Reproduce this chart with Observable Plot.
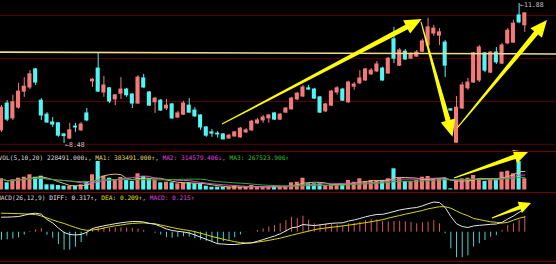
<!DOCTYPE html>
<html><head><meta charset="utf-8">
<script src="https://cdn.jsdelivr.net/npm/d3@7"></script>
<script src="https://cdn.jsdelivr.net/npm/@observablehq/plot@0.6"></script>
<style>
html,body{margin:0;padding:0;background:#000;}
#wrap{position:relative;width:556px;height:264px;overflow:hidden;background:#000;}
#wrap svg{position:absolute;left:0;overflow:visible;}
.hdr{position:absolute;white-space:pre;font-family:"DejaVu Sans Mono",monospace;font-size:6.2px;line-height:7px;}
.sep{position:absolute;left:0;width:556px;height:1px;background:#7a0000;}
</style></head>
<body><div id="wrap"></div>
<script>
// ---- data (one entry per trading day) ----
const openP = [8.80,9.45,9.09,9.35,9.74,9.84,10.28,9.52,9.18,8.99,
 8.97,8.70,8.60,8.89,8.80,9.21,9.99,10.30,9.72,9.82,
 9.55,9.69,9.79,9.67,9.45,10.06,9.72,9.48,9.52,9.33,
 9.43,9.11,9.18,9.40,9.28,9.16,8.87,8.75,8.72,8.70,
 8.60,8.65,8.63,8.75,8.80,8.97,9.04,9.09,9.21,9.06,
 9.23,9.31,9.55,9.62,9.82,9.79,9.60,9.26,9.40,9.72,
 9.79,9.48,9.86,9.94,10.01,10.16,10.23,10.30,10.18,11.01,
 10.37,10.71,10.54,10.59,10.71,10.86,11.15,11.10,10.93,9.31,
 8.50,9.33,9.82,9.96,10.01,10.67,10.20,10.69,10.42,10.91,
 10.93,11.59,11.35];
const highP = [9.40,9.52,9.65,9.94,10.08,10.25,10.30,9.57,9.23,9.11,
 8.99,8.72,8.97,8.97,8.99,9.33,10.06,10.69,10.11,9.84,
 9.67,10.08,9.82,9.69,10.13,10.16,9.74,9.60,9.55,9.55,
 9.45,9.26,9.50,9.57,9.35,9.18,8.89,8.82,8.77,8.72,
 8.70,8.77,8.87,8.84,9.04,9.09,9.16,9.18,9.23,9.21,
 9.35,9.60,9.72,9.89,9.89,9.82,9.62,9.45,9.77,9.86,
 9.82,9.99,9.96,10.25,10.30,10.30,10.47,10.33,10.57,11.30,
 10.79,10.76,10.69,10.74,11.01,11.52,11.35,11.27,10.98,9.32,
 9.62,9.96,10.06,10.69,10.86,10.69,10.71,10.81,10.91,11.27,
 11.47,11.88,11.66];
const lowP = [8.75,9.01,9.04,9.31,9.60,9.79,9.89,9.04,8.97,8.87,
 8.63,8.48,8.58,8.75,8.77,9.01,9.84,9.72,9.60,9.45,
 9.40,9.55,9.60,9.33,9.43,9.82,9.38,9.21,9.26,9.28,
 9.06,9.09,9.16,9.21,9.11,8.80,8.63,8.63,8.61,8.57,
 8.59,8.64,8.61,8.72,8.77,8.94,8.97,8.97,9.04,9.04,
 9.21,9.29,9.52,9.60,9.77,9.55,9.21,9.23,9.38,9.65,
 9.50,9.45,9.77,9.91,9.99,10.13,10.20,9.99,10.16,10.42,
 10.35,10.50,10.52,10.57,10.69,10.84,11.08,10.86,10.08,9.27,
 8.49,9.31,9.77,9.94,9.96,10.20,10.18,10.40,10.40,10.88,
 10.91,11.39,11.18];
const closeP = [9.35,9.06,9.48,9.74,9.86,10.16,9.96,9.16,8.99,8.94,
 8.67,8.66,8.80,8.87,8.94,9.04,10.03,9.74,9.89,9.50,
 9.65,9.79,9.65,9.45,10.08,9.84,9.40,9.57,9.28,9.40,
 9.09,9.21,9.45,9.23,9.14,8.87,8.67,8.72,8.70,8.58,
 8.67,8.75,8.84,8.80,9.01,9.04,9.11,9.16,9.06,9.18,
 9.33,9.57,9.69,9.84,9.79,9.57,9.23,9.43,9.74,9.82,
 9.52,9.96,9.91,10.06,10.28,10.25,10.40,10.01,10.54,10.54,
 10.74,10.52,10.64,10.69,10.96,11.30,11.27,11.18,10.37,9.28,
 9.35,9.89,9.96,10.67,10.81,10.25,10.69,10.45,10.86,11.22,
 11.39,11.42,11.64];
const volume = [228500,146900,208100,240700,261100,310100,259800,281500,106100,105000,
 91800,77500,78300,76900,106100,159100,310100,581400,281500,240700,
 208100,255000,193800,173400,330500,275400,228500,208100,146900,159100,
 146900,126500,146900,147800,126500,125200,77500,57100,58200,56300,
 57100,77500,57100,56800,91800,57100,57900,56600,77500,71400,
 77500,146900,159100,240700,126500,126500,125800,91800,106100,105400,
 106100,193800,159100,228500,173400,193800,192900,193800,228500,432500,
 240700,173400,172800,193800,261100,275400,228500,227600,240700,24500,
 193800,228500,240700,295800,228500,173400,228500,229100,363100,383500,
 330500,581400,228491];
const diffV = [0.205,0.206,0.209,0.214,0.231,0.251,0.259,0.246,0.173,0.126,
 0.057,-0.004,-0.031,-0.038,-0.031,-0.001,0.051,0.071,0.087,0.102,
 0.116,0.128,0.138,0.146,0.147,0.139,0.120,0.108,0.078,0.044,
 0.023,0.012,0.003,-0.011,-0.038,-0.068,-0.097,-0.127,-0.158,-0.162,
 -0.168,-0.168,-0.160,-0.150,-0.145,-0.124,-0.101,-0.076,-0.052,-0.023,
 0.018,0.060,0.071,0.105,0.097,0.091,0.100,0.111,0.121,0.126,
 0.128,0.153,0.167,0.187,0.210,0.228,0.242,0.244,0.262,0.283,
 0.303,0.317,0.329,0.337,0.360,0.388,0.412,0.405,0.337,0.214,
 0.115,0.078,0.064,0.085,0.094,0.100,0.108,0.112,0.135,0.180,
 0.221,0.272,0.317];
const deaV = [0.259,0.258,0.255,0.253,0.250,0.246,0.242,0.221,0.194,0.167,
 0.142,0.119,0.091,0.064,0.040,0.026,0.030,0.040,0.057,0.074,
 0.087,0.098,0.111,0.119,0.124,0.127,0.121,0.115,0.098,0.081,
 0.064,0.048,0.034,0.023,0.007,-0.014,-0.035,-0.059,-0.076,-0.097,
 -0.113,-0.130,-0.141,-0.149,-0.146,-0.135,-0.124,-0.111,-0.097,-0.081,
 -0.061,-0.042,-0.022,-0.004,0.015,0.034,0.048,0.057,0.067,0.076,
 0.086,0.096,0.106,0.119,0.130,0.143,0.157,0.171,0.192,0.210,
 0.228,0.246,0.262,0.280,0.296,0.319,0.333,0.348,0.347,0.328,
 0.289,0.253,0.225,0.187,0.173,0.157,0.142,0.135,0.124,0.135,
 0.164,0.190,0.209];
const gridPrices = [11.59, 10.54, 9.50, 8.46];
const trendIdx = [-0.5, 97.6];
const trendPrice = [10.70, 10.655];
const extremeIdx = [91, 11];
const extremePrice = [11.88, 8.48];
const extremeText = ["←11.88", "←8.48"];
const mainArrows = [
  {x1: 38.85, y1: 8.94, x2: 73.96, y2: 11.49},
  {x1: 73.84, y1: 11.42, x2: 79.38, y2: 8.63},
  {x1: 80.17, y1: 8.84, x2: 95.99, y2: 11.47}
];
const volArrows = [{x1: 79.64, y1: 234600, x2: 92.65, y2: 765000}];
const macdArrows = [{x1: 86.32, y1: 0.187, x2: 93.18, y2: 0.392}];
const volHeader = ["VOL(5,10,20) 228491.000↓, ", "MA1: 383491.000↑, ", "MA2: 314579.406↓, ", "MA3: 267523.906↑"];
const macdHeader = ["MACD(26,12,9) ", "DIFF: 0.317↑, ", "DEA: 0.209↑, ", "MACD: 0.215↑"];

// ---- styles ----
const UP = "#f47a7a", DN = "#52f4f4";
const volHeaderColors = ["#d8d8d8", "#e2d870", "#e040e0", "#30c030"];
const macdHeaderColors = ["#d8d8d8", "#e8e8e8", "#e0e000", "#e040e0"];
const FONT = "DejaVu Sans Mono";

const N = openP.length;
const candles = d3.range(N).map(i => ({i, o: openP[i], h: highP[i], l: lowP[i], c: closeP[i]}));
const vols = d3.range(N).map(i => ({i, v: volume[i], up: closeP[i] >= openP[i]}));
const macd = d3.range(N).map(i => ({i, diff: diffV[i], dea: deaV[i]}));
const trend = trendIdx.map((x, k) => ({x, p: trendPrice[k]}));
const extremes = extremeIdx.map((x, k) => ({x, p: extremePrice[k], t: extremeText[k]}));
const col = d => (d.c >= d.o ? UP : DN);

function taperedArrows(list, sz) {
  return function(...args) {
    const scales = args.find(a => a && typeof a === "object" && typeof a.x === "function" && typeof a.y === "function");
    const g = d3.create("svg:g");
    for (const a of list) {
      const x1 = scales.x(a.x1), y1 = scales.y(a.y1), x2 = scales.x(a.x2), y2 = scales.y(a.y2);
      const dx = x2 - x1, dy = y2 - y1, L = Math.hypot(dx, dy);
      const ux = dx / L, uy = dy / L, nx = -uy, ny = ux;
      const bx = x2 - ux * sz.hl, by = y2 - uy * sz.hl;
      const pts = [
        [x1 + nx * sz.w0, y1 + ny * sz.w0],
        [bx + nx * sz.w1, by + ny * sz.w1],
        [bx + nx * sz.hw, by + ny * sz.hw],
        [x2, y2],
        [bx - nx * sz.hw, by - ny * sz.hw],
        [bx - nx * sz.w1, by - ny * sz.w1],
        [x1 - nx * sz.w0, y1 - ny * sz.w0]
      ];
      g.append("polygon").attr("points", pts.map(p => p.join(",")).join(" ")).attr("fill", "#ffff00");
    }
    return g.node();
  };
}

const xScale = {type: "linear", domain: [0, 92], range: [1, 524.3], axis: null};

const mainPlot = Plot.plot({
  width: 556, height: 151,
  x: xScale,
  y: {type: "linear", domain: [8.48, 11.88], range: [143, 3], axis: null},
  style: {background: "transparent"},
  marks: [
    Plot.ruleY(gridPrices, {stroke: "#5a0000"}),
    Plot.ruleX(candles, {x: "i", y1: "l", y2: "h", stroke: col, strokeWidth: 1}),
    Plot.rect(candles, {x1: d => d.i - 0.36, x2: d => d.i + 0.36, y1: "o", y2: "c", fill: col, insetTop: -0.5, insetBottom: -0.5}),
    Plot.line(trend, {x: "x", y: "p", stroke: "#f2dc8a", strokeWidth: 1.6}),
    Plot.text(extremes, {x: "x", y: "p", text: "t", textAnchor: "start", dx: 1, dy: 1.5, fill: "#c8c8c8", fontSize: 6.5, fontFamily: FONT}),
    taperedArrows(mainArrows, {w0: 0.5, w1: 2.6, hl: 17, hw: 7.5})
  ]
});

const volPlot = Plot.plot({
  width: 556, height: 41,
  x: xScale,
  y: {type: "linear", domain: [0, 581400], range: [38.5, 10], axis: null},
  style: {background: "transparent"},
  marks: [
    Plot.rect(vols, {x1: d => d.i - 0.36, x2: d => d.i + 0.36, y1: 0, y2: "v", fill: d => d.up ? UP : DN}),
    Plot.line(vols, Plot.windowY({k: 5, anchor: "end"}, {x: "i", y: "v", stroke: "#d8c060", strokeWidth: 1})),
    Plot.line(vols, Plot.windowY({k: 10, anchor: "end"}, {x: "i", y: "v", stroke: "#d050d0", strokeWidth: 1})),
    Plot.line(vols, Plot.windowY({k: 20, anchor: "end"}, {x: "i", y: "v", stroke: "#30b030", strokeWidth: 1})),
    taperedArrows(volArrows, {w0: 0.5, w1: 2.4, hl: 14, hw: 7})
  ]
});

const macdPlot = Plot.plot({
  width: 556, height: 70,
  x: xScale,
  y: {type: "linear", domain: [0, 0.542], range: [39.7, 0], axis: null},
  style: {background: "transparent"},
  marks: [
    Plot.ruleX(macd, {x: "i", y1: 0, y2: d => 2 * (d.diff - d.dea), stroke: d => d.diff >= d.dea ? "#e05a5a" : "#48d4d4", strokeWidth: 1}),
    Plot.line(macd, {x: "i", y: "dea", stroke: "#d8d800", strokeWidth: 1}),
    Plot.line(macd, {x: "i", y: "diff", stroke: "#e8e8e8", strokeWidth: 1}),
    taperedArrows(macdArrows, {w0: 0.5, w1: 2, hl: 12, hw: 6})
  ]
});

const wrap = document.getElementById("wrap");
[[mainPlot, 0], [volPlot, 151], [macdPlot, 192]].forEach(([svg, top]) => {
  svg.style.top = top + "px";
  wrap.appendChild(svg);
});
[151, 192, 261].forEach(t => {
  const d = document.createElement("div");
  d.className = "sep"; d.style.top = t + "px";
  wrap.appendChild(d);
});
function header(parts, colors, left, top) {
  const d = document.createElement("div");
  d.className = "hdr"; d.style.left = left + "px"; d.style.top = top + "px";
  parts.forEach((p, k) => {
    const s = document.createElement("span");
    s.textContent = p; s.style.color = colors[k];
    d.appendChild(s);
  });
  wrap.appendChild(d);
}
header(volHeader, volHeaderColors, -1.5, 153.5);
header(macdHeader, macdHeaderColors, -3, 193.5);
</script>
</body></html>
